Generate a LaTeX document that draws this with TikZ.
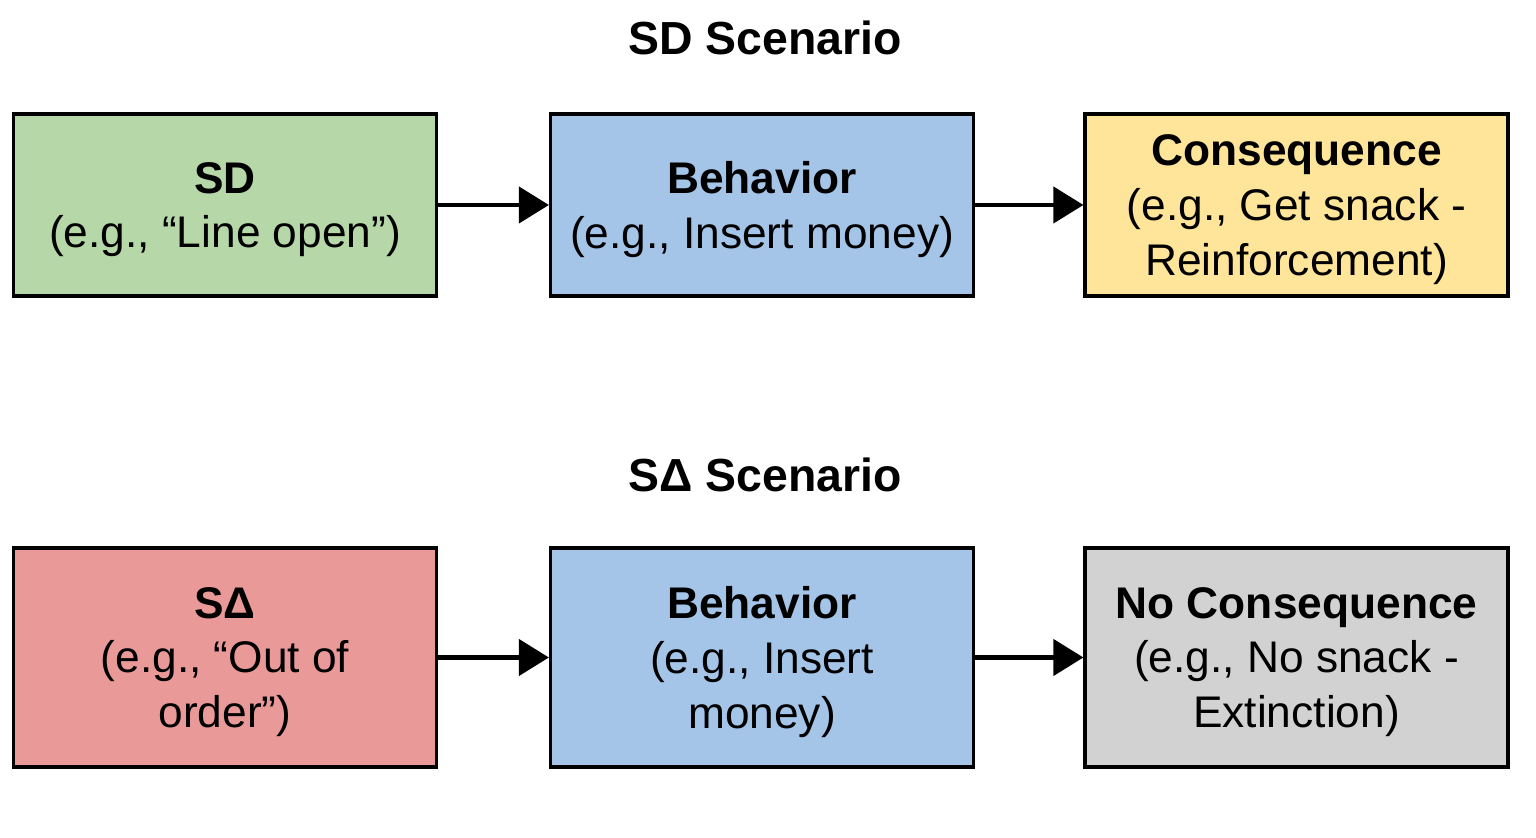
\documentclass[tikz,border=0pt]{standalone}
\usepackage{fontspec}
\setmainfont{Liberation Sans}
\usetikzlibrary{arrows.meta}
\definecolor{sdgreen}{HTML}{B6D7A8}
\definecolor{behblue}{HTML}{A4C4E8}
\definecolor{consyellow}{HTML}{FFE599}
\definecolor{sdeltared}{HTML}{EA9999}
\definecolor{nogray}{HTML}{D2D2D2}
\begin{document}
\begin{tikzpicture}[
  box/.style={draw=black,line width=0.9pt,minimum width=4.23cm,align=center,
    text depth=0pt,font=\fontsize{12.6}{15.6}\selectfont},
  toprow/.style={box,minimum height=1.82cm},
  botrow/.style={box,minimum height=2.19cm},
  title/.style={font=\fontsize{13.2}{16}\selectfont\bfseries},
  link/.style={line width=1.2pt,-{Triangle[length=0.3cm,width=0.36cm]}}]
\useasboundingbox[fill=white] (0,0) rectangle (15.36,8.38);
% SD scenario
\node[title] (sdtitle) at (7.65,8.0) {SD Scenario};
\node[toprow,fill=sdgreen] (sd) at (2.25,6.33) {\textbf{SD}\\(e.g., “Line open”)};
\node[toprow,fill=behblue] (beh1) at (7.62,6.33) {\textbf{Behavior}\\(e.g., Insert money)};
\node[toprow,fill=consyellow] (cons) at (12.965,6.33) {\textbf{Consequence}\\(e.g., Get snack -\\Reinforcement)};
\draw[link] (sd) -- (beh1);
\draw[link] (beh1) -- (cons);
% S-delta scenario
\node[title] (sdeltatitle) at (7.65,3.63) {SΔ Scenario};
\node[botrow,fill=sdeltared] (sdelta) at (2.25,1.805) {\textbf{SΔ}\\(e.g., “Out of\\order”)};
\node[botrow,fill=behblue] (beh2) at (7.62,1.805) {\textbf{Behavior}\\(e.g., Insert\\money)};
\node[botrow,fill=nogray] (nocons) at (12.965,1.805) {\textbf{No Consequence}\\(e.g., No snack -\\Extinction)};
\draw[link] (sdelta) -- (beh2);
\draw[link] (beh2) -- (nocons);
\end{tikzpicture}
\end{document}
